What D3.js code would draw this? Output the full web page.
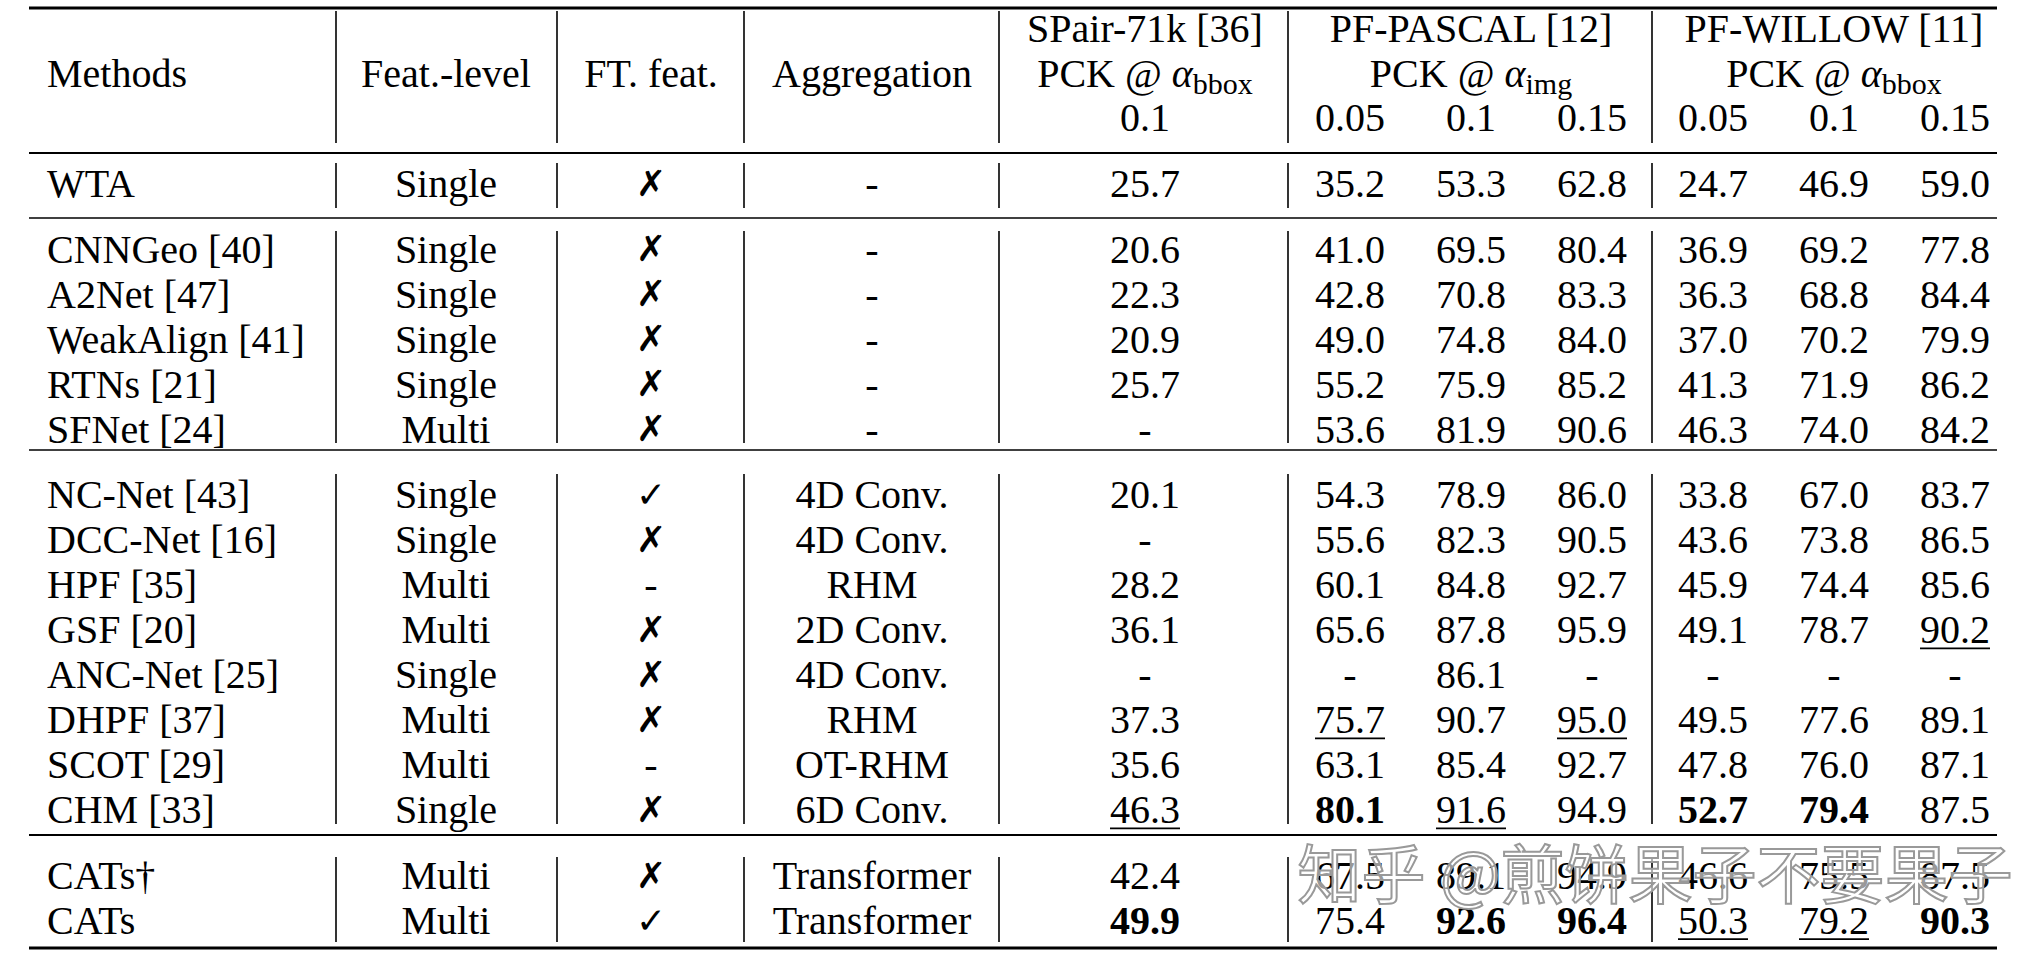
<!DOCTYPE html>
<html>
<head>
<meta charset="utf-8">
<script src="https://cdn.jsdelivr.net/npm/d3@7"></script>
<style>
  body { margin: 0; background: #fff; }
  svg text { font-family: "Liberation Serif", Tinos, "Times New Roman", Times, "DejaVu Serif", serif; fill: #000; }
</style>
</head>
<body>
<svg id="chart" width="2040" height="958"></svg>
<script>
// table data
const methods = ["WTA", "CNNGeo [40]", "A2Net [47]", "WeakAlign [41]", "RTNs [21]", "SFNet [24]",
  "NC-Net [43]", "DCC-Net [16]", "HPF [35]", "GSF [20]", "ANC-Net [25]", "DHPF [37]", "SCOT [29]", "CHM [33]",
  "CATs\u2020", "CATs"]
const groups = [0, 1, 1, 1, 1, 1, 2, 2, 2, 2, 2, 2, 2, 2, 3, 3]
const featLevel = ["Single", "Single", "Single", "Single", "Single", "Multi",
  "Single", "Single", "Multi", "Multi", "Single", "Multi", "Multi", "Single", "Multi", "Multi"]
const ftFeat = ["x", "x", "x", "x", "x", "x", "v", "x", "-", "x", "x", "x", "-", "x", "x", "v"]
const aggregation = ["-", "-", "-", "-", "-", "-",
  "4D Conv.", "4D Conv.", "RHM", "2D Conv.", "4D Conv.", "RHM", "OT-RHM", "6D Conv.", "Transformer", "Transformer"]
const spair = ["25.7", "20.6", "22.3", "20.9", "25.7", "-", "20.1", "-", "28.2", "36.1", "-", "37.3", "35.6", "46.3", "42.4", "49.9"]
const pascal005 = ["35.2", "41.0", "42.8", "49.0", "55.2", "53.6", "54.3", "55.6", "60.1", "65.6", "-", "75.7", "63.1", "80.1", "67.5", "75.4"]
const pascal01 = ["53.3", "69.5", "70.8", "74.8", "75.9", "81.9", "78.9", "82.3", "84.8", "87.8", "86.1", "90.7", "85.4", "91.6", "89.1", "92.6"]
const pascal015 = ["62.8", "80.4", "83.3", "84.0", "85.2", "90.6", "86.0", "90.5", "92.7", "95.9", "-", "95.0", "92.7", "94.9", "94.9", "96.4"]
const willow005 = ["24.7", "36.9", "36.3", "37.0", "41.3", "46.3", "33.8", "43.6", "45.9", "49.1", "-", "49.5", "47.8", "52.7", "46.6", "50.3"]
const willow01 = ["46.9", "69.2", "68.8", "70.2", "71.9", "74.0", "67.0", "73.8", "74.4", "78.7", "-", "77.6", "76.0", "79.4", "75.5", "79.2"]
const willow015 = ["59.0", "77.8", "84.4", "79.9", "86.2", "84.2", "83.7", "86.5", "85.6", "90.2", "-", "89.1", "87.1", "87.5", "87.5", "90.3"]
// [row, column] of bold and underlined numbers
const boldCells = [[13, "p005"], [13, "w005"], [13, "w01"], [15, "spair"], [15, "p01"], [15, "p015"], [15, "w015"]]
const underlineCells = [[13, "spair"], [11, "p005"], [11, "p015"], [13, "p01"], [9, "w015"], [15, "w005"], [15, "w01"]]
const watermark = "知乎 @煎饼果子不要果子"

const columns = ["method", "feat", "ft", "agg", "spair", "p005", "p01", "p015", "w005", "w01", "w015"]
const columnData = {method: methods, feat: featLevel, ft: ftFeat, agg: aggregation, spair: spair,
  p005: pascal005, p01: pascal01, p015: pascal015, w005: willow005, w01: willow01, w015: willow015}

const svg = d3.select("#chart")
const x = d3.scaleOrdinal().domain(columns)
  .range([47, 446, 651, 872, 1145, 1350, 1471, 1592, 1713, 1834, 1955])
const slot = methods.map((m, i) => i + groups[i] * 0.46)
const y = d3.scaleLinear().domain([0, 1]).range([183, 228])
const left = 29, right = 1997
const vlines = [336, 557, 744, 999, 1288, 1652]

// rules
const rules = [{y: 8, w: 3}, {y: 153, w: 2}, {y: 218, w: 1.6}, {y: 450, w: 1.6}, {y: 835, w: 2.2}, {y: 948, w: 3}]
svg.selectAll("line.rule").data(rules).join("line")
  .attr("x1", left).attr("x2", right).attr("y1", d => d.y).attr("y2", d => d.y)
  .attr("stroke", "#000").attr("stroke-width", d => d.w)

// vertical separators per block
const blocks = [[11, 143], [163, 208], [231, 443], [474, 824], [857, 942]]
blocks.forEach(b => {
  svg.append("g").selectAll("line").data(vlines).join("line")
    .attr("x1", d => d).attr("x2", d => d).attr("y1", b[0]).attr("y2", b[1])
    .attr("stroke", "#000").attr("stroke-width", 1.6)
})

// header
const fs = 40
const head = svg.append("g").attr("font-size", fs)
head.append("text").attr("x", x("method")).attr("y", 73).attr("dy", "0.35em").text("Methods")
;[["feat", "Feat.-level"], ["ft", "FT. feat."], ["agg", "Aggregation"]].forEach(h => {
  head.append("text").attr("x", x(h[0])).attr("y", 73).attr("dy", "0.35em").attr("text-anchor", "middle").text(h[1])
})
const datasets = [{c: 1145, name: "SPair-71k [36]", sub: "bbox"}, {c: 1471, name: "PF-PASCAL [12]", sub: "img"}, {c: 1834, name: "PF-WILLOW [11]", sub: "bbox"}]
datasets.forEach(d => {
  head.append("text").attr("x", d.c).attr("y", 28).attr("dy", "0.35em").attr("text-anchor", "middle").text(d.name)
  const t = head.append("text").attr("x", d.c).attr("y", 73).attr("dy", "0.35em").attr("text-anchor", "middle")
  t.append("tspan").text("PCK @ ")
  t.append("tspan").attr("font-style", "italic").text("\u03b1")
  t.append("tspan").attr("font-size", 30).attr("dy", 7).text(d.sub)
})
;[["spair", "0.1"], ["p005", "0.05"], ["p01", "0.1"], ["p015", "0.15"], ["w005", "0.05"], ["w01", "0.1"], ["w015", "0.15"]].forEach(h => {
  head.append("text").attr("x", x(h[0])).attr("y", 117).attr("dy", "0.35em").attr("text-anchor", "middle").text(h[1])
})

// body cells
const isIn = (list, r, c) => list.some(p => p[0] === r && p[1] === c)
const cells = []
methods.forEach((m, r) => columns.forEach(c => cells.push({r: r, c: c, v: columnData[c][r]})))
const body = svg.append("g").attr("font-size", fs)
body.selectAll("text").data(cells).join("text")
  .attr("x", d => x(d.c))
  .attr("y", d => y(slot[d.r]))
  .attr("dy", "0.35em")
  .attr("text-anchor", d => d.c === "method" ? "start" : "middle")
  .attr("font-weight", d => isIn(boldCells, d.r, d.c) || (d.c === "ft" && d.v !== "-") ? "bold" : null)
  .style("font-family", d => d.c === "ft" && d.v !== "-" ? "'DejaVu Sans', sans-serif" : null)
  .attr("font-size", d => d.c === "ft" && d.v !== "-" ? 36 : null)
  .text(d => d.c === "ft" ? (d.v === "x" ? "\u2717" : d.v === "v" ? "\u2713" : "-") : d.v)
  .each(function(d) {
    if (!isIn(underlineCells, d.r, d.c)) return
    const bb = this.getBBox()
    body.append("line").attr("x1", bb.x).attr("x2", bb.x + bb.width)
      .attr("y1", y(slot[d.r]) + 19).attr("y2", y(slot[d.r]) + 19)
      .attr("stroke", "#000").attr("stroke-width", 1.8)
  })

// watermark
svg.append("text").attr("x", 1655).attr("y", 876).attr("dy", "0.35em").attr("text-anchor", "middle")
  .attr("font-size", 64).style("font-family", "'Noto Sans CJK SC', sans-serif")
  .style("fill", "#fff").style("fill-opacity", 0.6).style("stroke", "#999").style("stroke-width", 2)
  .text(watermark)
</script>
</body>
</html>
